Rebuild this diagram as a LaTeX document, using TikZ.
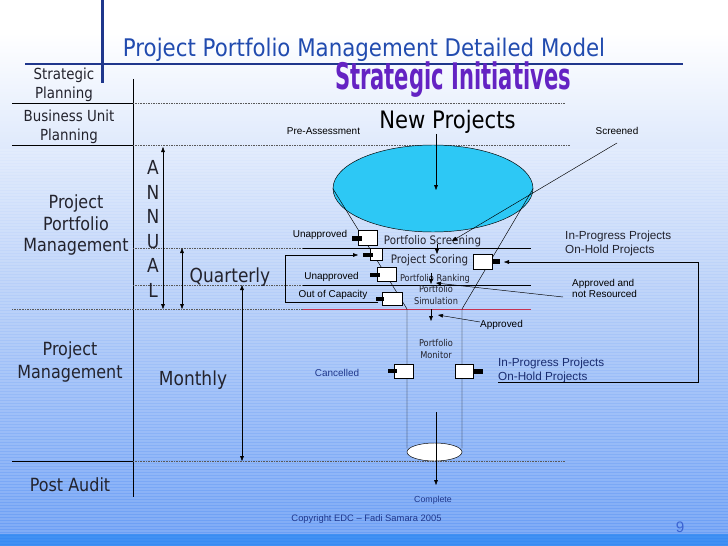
\documentclass[tikz,border=0pt]{standalone}
\usepackage{fontspec}
\setmainfont{Liberation Sans}
\newfontfamily\tah[FakeStretch=0.88]{DejaVu Sans}
\newfontfamily\wordart[FakeStretch=0.72]{DejaVu Sans}
\usetikzlibrary{arrows.meta,shapes.geometric}

\definecolor{navy}{RGB}{31,55,140}
\definecolor{titleblue}{RGB}{33,75,175}
\definecolor{disc}{RGB}{45,200,245}
\definecolor{waviolet}{RGB}{100,35,195}
\definecolor{redline}{RGB}{200,50,80}
\definecolor{inktext}{RGB}{35,35,45}
\definecolor{pagenum}{RGB}{60,100,210}
\definecolor{bgbot}{RGB}{30,105,240}
\definecolor{bglow}{RGB}{110,160,245}
\definecolor{bgmid}{RGB}{200,218,250}
\pgfdeclareverticalshading{slidebg}{100bp}{color(0bp)=(bgbot); color(27bp)=(bglow); color(54bp)=(bgmid); color(72bp)=(white); color(100bp)=(white)}

\begin{document}
\begin{tikzpicture}[x=0.3mm, y=-0.3mm,
    arr/.style={-{Triangle[length=1.5mm,width=1.1mm]}, thin},
    darr/.style={{Triangle[length=1.5mm,width=1.1mm]}-{Triangle[length=1.5mm,width=1.1mm]}, thin},
    dots/.style={densely dotted, black!65, thin},
    gate/.style args={#1x#2}{draw, fill=white, thin, inner sep=0pt, outer sep=0pt,
      minimum width=#1*0.3mm, minimum height=#2*0.3mm},
    tab/.style args={#1x#2}{fill=black, inner sep=0pt, outer sep=0pt,
      minimum width=#1*0.3mm, minimum height=#2*0.3mm},
    small/.style={font=\fontsize{8.5}{10}\selectfont, inner sep=0pt},
    mid/.style={font=\fontsize{10}{12}\selectfont, inner sep=0pt, align=left},
    stage/.style={font=\tah\fontsize{10}{12}\selectfont, inner sep=0pt, text=inktext},
    tiny/.style={font=\tah\fontsize{8}{10}\selectfont, inner sep=0pt, text=inktext, align=center},
    level/.style={font=\tah\fontsize{15.5}{18.3}\selectfont, inner sep=0pt, text=inktext, align=center},
    cycle/.style={font=\tah\fontsize{16.5}{20.9}\selectfont, inner sep=0pt, text=inktext, align=center}]

  \useasboundingbox (0,0) rectangle (728,546);
  \shade[shading=slidebg] (0,0) rectangle (728,546);
  \foreach \y in {150,153,...,546}
    \draw[white, opacity=0.14, line width=0.35mm] (0,\y) -- (728,\y);
  \fill[bgbot!85!cyan, opacity=0.6] (0,534) rectangle (728,546);

  % title
  \draw[navy, line width=0.9mm] (102,0) -- (102,83);
  \draw[navy, line width=0.55mm] (25,64) -- (683,64);
  \node[font=\tah\fontsize{20.7}{22}\selectfont, text=titleblue, anchor=base, inner sep=0pt] (title) at (364,57) {Project Portfolio Management Detailed Model};
  \node[font=\wordart\bfseries\fontsize{25}{27}\selectfont, text=waviolet, inner sep=0pt] (init) at (453,80) {\scalebox{1}[1.25]{Strategic Initiatives}};

  % levels on the left
  \draw (133,79) -- (133,497);
  \draw (12,103) -- (133,103);
  \draw (12,145) -- (133,145);
  \draw (12,461) -- (133,461);
  \draw[dots] (133,103) -- (565,103);
  \draw[dots] (133,145) -- (570,145);
  \draw[dots] (133,248) -- (303,248);
  \draw[dots] (133,285) -- (303,285);
  \draw[dots] (12,309) -- (303,309);
  \draw[dots] (133,461) -- (565,461);
  \draw (303,248) -- (531,248);
  \draw (303,285) -- (531,285);
  \draw[redline] (303,309) -- (531,309);

  \node[level, font=\tah\fontsize{13}{16}\selectfont] (sp) at (64,85) {Strategic\\Planning};
  \node[level, font=\tah\fontsize{13}{16}\selectfont] (bup) at (69,127) {Business Unit\\Planning};
  \node[level] (ppm) at (76,225) {Project\\Portfolio\\Management};
  \node[level, font=\tah\fontsize{15.5}{19.5}\selectfont] (pm) at (70,362) {Project\\Management};
  \node[level] (pa) at (70,485) {Post Audit};

  % planning cycles
  \node[cycle] (annual) at (153,229) {A\\N\\N\\U\\A\\L};
  \node[cycle] (quarterly) at (230,277) {Quarterly};
  \node[cycle] (monthly) at (193,380) {Monthly};
  \draw[darr] (163,147) -- (163,309);
  \draw[darr] (182,248) -- (182,309);
  \draw[darr] (242,285) -- (242,461);

  % funnel
  \node[ellipse, draw, fill=disc, thin, inner sep=0pt, minimum width=200*0.3mm, minimum height=87*0.3mm] (disc) at (433,188.5) {};
  \coordinate (fl) at (407,309);
  \coordinate (fr) at (462,309);
  \coordinate (cl) at (407,448);
  \coordinate (cr) at (462,448);
  \draw (disc.west) -- (fl) -- (cl);
  \draw (disc.east) -- (fr) -- (cr);
  \node[ellipse, draw, fill=white, thin, inner sep=0pt, minimum width=55*0.3mm, minimum height=18*0.3mm] (done) at (434.5,452) {};

  \node[font=\tah\fontsize{20.5}{24}\selectfont, inner sep=0pt] (np) at (447.5,122) {New Projects};
  \node[small] (pre) at (323.5,131) {Pre-Assessment};
  \node[small] (scr) at (617,131) {Screened};

  \node[stage] (screening) at (432.5,241) {Portfolio Screening};
  \node[stage] (scoring) at (429.5,260) {Project Scoring};
  \node[tiny] (ranking) at (435,279) {Portfolio Ranking};
  \node[tiny] (simulation) at (436,295) {Portfolio\\Simulation};
  \node[tiny] (monitor) at (436,349) {Portfolio\\Monitor};

  % gates
  \node[gate=19x15] (g1) at (367.5,237.5) {};
  \node[tab=10x5] (t1) at (357,238.5) {};
  \node[gate=12x12] (g2) at (376,254) {};
  \node[tab=10x4] (t2) at (368,255) {};
  \node[gate=19x14] (g3) at (386.5,274) {};
  \node[tab=10x4] (t3) at (375,275) {};
  \node[gate=20x13] (g4) at (392,298.5) {};
  \node[tab=8x4] (t4) at (379.5,299) {};
  \node[gate=19x15] (g5) at (482.5,261.5) {};
  \node[tab=8x5] (t5) at (496,261.5) {};
  \node[gate=19x14] (g6) at (403.5,371) {};
  \node[tab=9x4] (t6) at (392.5,371) {};
  \node[gate=18x14] (g7) at (464,371) {};
  \node[tab=10x5] (t7) at (478,371.5) {};

  \node[small] (unapp1) at (320,235) {Unapproved};
  \node[small] (unapp2) at (331.5,277) {Unapproved};
  \node[small] (cap) at (333,295) {Out of Capacity};
  \node[small, align=left, anchor=west] (anr) at (572,288.5) {Approved and\\not Resourced};
  \node[small] (app) at (501.5,325) {Approved};
  \node[small, text=navy] (cancel) at (337,373) {Cancelled};
  \node[small, text=navy, font=\fontsize{7.5}{9}\selectfont] (complete) at (433,500) {Complete};
  \node[mid, anchor=west, text=inktext] (iph1) at (565,243) {In-Progress Projects\\On-Hold Projects};
  \node[mid, anchor=west, text=navy!80!black] (iph2) at (498,370.5) {In-Progress Projects\\On-Hold Projects};

  % flow
  \coordinate (npfoot) at (436,134);
  \coordinate (discmid) at (436,190);
  \draw[arr] (npfoot) -- (discmid);
  \coordinate (scrtip) at (617,143);
  \coordinate (scrend) at (452,241);
  \draw[arr] (scrtip) -- (scrend);
  \draw[arr] (437,244) -- (437,254);
  \draw[arr] (431,273) -- (431,284);
  \draw[arr] (431,309) -- (431,321);
  \coordinate (appfoot) at (480,322);
  \draw[arr] (appfoot) -- (438,315);
  \coordinate (anrfoot) at (563,297);
  \draw[arr] (anrfoot) -- (436,283);
  \coordinate (loopa) at (285,302);
  \coordinate (loopb) at (285,255);
  \draw[arr] (378,302) -- (loopa) -- (loopb) -- (358,255);
  \coordinate (loopc) at (698,382);
  \coordinate (loopd) at (698,262);
  \draw[arr] (498,382) -- (loopc) -- (loopd) -- (504,262);
  \coordinate (cylmid) at (436,412);
  \coordinate (cylout) at (436,485);
  \draw[arr] (cylmid) -- (cylout);

  \node[small, text=navy, font=\fontsize{8}{10}\selectfont] (copy) at (366.5,519) {Copyright EDC -- Fadi Samara 2005};
  \node[text=pagenum, font=\fontsize{13}{15}\selectfont, inner sep=0pt] (page) at (680,527) {9};
\end{tikzpicture}
\end{document}
